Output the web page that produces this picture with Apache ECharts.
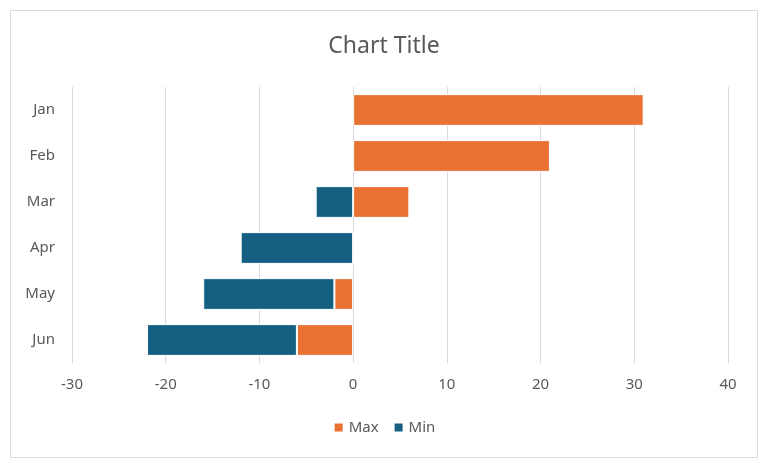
<!DOCTYPE html>
<html>
<head>
<meta charset="utf-8">
<script src="https://cdn.jsdelivr.net/npm/echarts@6/dist/echarts.min.js"></script>
<style>
	html, body { margin: 0; padding: 0; background: #fff; }
	#frame { position: absolute; left: 10px; top: 10px; width: 746px; height: 446px; border: 1px solid #d9d9d9; }
	#chart { position: absolute; left: 0; top: 0; width: 768px; height: 465px; }
</style>
</head>
<body>
<div id="frame"></div>
<div id="chart"></div>
<script>
	var months = ["Jan", "Feb", "Mar", "Apr", "May", "Jun"];
	var maxVals = [31, 21, 6, 0, -2, -6];
	var minVals = [0, 0, -4, -12, -14, -16];
	var xTicks = { min: -30, max: 40, step: 10 };

	var txt = "#595959";
	var font = "Noto Sans";

	var myChart = echarts.init(document.getElementById("chart"));
	myChart.setOption({
		animation: false,
		title: {
			text: "Chart Title",
			left: "center",
			top: 30,
			textStyle: { color: txt, fontSize: 23, fontWeight: "normal", fontFamily: font }
		},
		legend: {
			bottom: 25,
			left: "center",
			itemWidth: 10,
			itemHeight: 10,
			itemGap: 14,
			icon: "rect",
			textStyle: { color: txt, fontSize: 15, fontFamily: font },
			data: ["Max", "Min"]
		},
		grid: { left: 72, right: 40, top: 87, bottom: 102 },
		xAxis: {
			type: "value",
			min: xTicks.min,
			max: xTicks.max,
			interval: xTicks.step,
			axisLine: { show: false },
			axisTick: { show: false },
			axisLabel: { color: txt, fontSize: 15, fontFamily: font, margin: 14 },
			splitLine: { lineStyle: { color: "#d9d9d9", width: 1 } }
		},
		yAxis: {
			type: "category",
			inverse: true,
			data: months,
			axisLine: { show: false },
			axisTick: { show: false },
			axisLabel: { color: txt, fontSize: 15, fontFamily: font, margin: 17 }
		},
		series: [
			{
				name: "Max",
				type: "bar",
				stack: "t",
				data: maxVals,
				barCategoryGap: "31%",
				itemStyle: { color: "#e97132", borderColor: "#fff", borderWidth: 1 }
			},
			{
				name: "Min",
				type: "bar",
				stack: "t",
				data: minVals,
				barCategoryGap: "31%",
				itemStyle: { color: "#156082", borderColor: "#fff", borderWidth: 1 }
			}
		]
	});
</script>
</body>
</html>
